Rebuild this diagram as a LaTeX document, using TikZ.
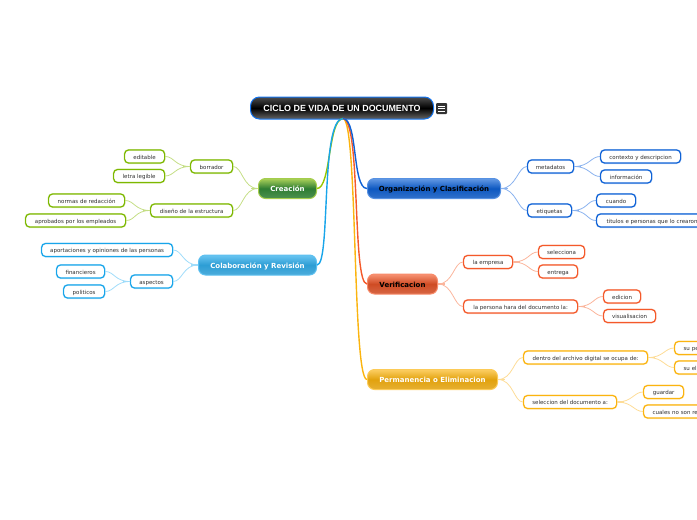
\documentclass[tikz,border=0pt]{standalone}
\usepackage{fontspec}
\setmainfont{DejaVu Sans}
\newfontfamily\rootfont{Liberation Sans}
\definecolor{verde}{HTML}{7DB800}
\definecolor{verdeL}{HTML}{C4DE85}
\definecolor{musgo}{HTML}{2E7D32}
\definecolor{azul}{HTML}{0F62D6}
\definecolor{azulL}{HTML}{8AB2EE}
\definecolor{rojo}{HTML}{F4592A}
\definecolor{rojoL}{HTML}{FBB59C}
\definecolor{oro}{HTML}{FBB40F}
\definecolor{oroL}{HTML}{FDDC96}
\definecolor{cielo}{HTML}{18A5EA}
\definecolor{cieloL}{HTML}{9FDCFA}
\definecolor{tinta}{HTML}{303030}
\tikzset{
  leaf/.style={anchor=west,draw=#1,line width=1.2pt,rounded corners=4pt,fill=white,
    preaction={draw=#1!25,line width=2pt},text=tinta,inner sep=0pt,
    text height=6.2pt,text depth=1pt,minimum height=13pt,font=\fontsize{5.5}{6}\selectfont},
  cutleaf/.style={leaf=#1,align=left},
  topic/.style n args={3}{anchor=west,draw=#1!70,line width=1pt,rounded corners=7pt,
    top color=#1!65,bottom color=#2!85,middle color=#2,inner sep=0pt,
    text height=7.4pt,text depth=1pt,minimum height=20pt,
    text=#3,font=\fontsize{7}{8}\selectfont\bfseries},
  kidleft/.style={out=180,in=0,out distance=15pt,in distance=9pt},
  kidright/.style={out=0,in=180,out distance=15pt,in distance=9pt},
}
\begin{document}
\begin{tikzpicture}[x=1pt,y=-1pt]
\useasboundingbox (0,0) rectangle (697,520);

%Centro
\node[anchor=west,draw=cielo!70!blue,line width=1pt,rounded corners=9pt,top color=black!70,
  bottom color=black!60,middle color=black,inner sep=0pt,minimum width=183pt,minimum height=22pt,
  text=white,font=\rootfont\fontsize{8.9}{10}\selectfont\bfseries] (root) at (250,108) {CICLO DE VIDA DE UN DOCUMENTO};
\node[anchor=west,fill=black!80,rounded corners=1pt,minimum width=11pt,minimum height=11pt,inner sep=0pt] (menu) at (436,108.5) {};
\foreach \y in {-2.5,0,2.5}{
    \draw[white,line width=0.7pt,shift={(menu.center)}] (-3.5,\y) -- (3.5,\y);
}
\coordinate (rootfoot) at (343,118.5);

%Temas
\node[topic={verde}{musgo}{white},minimum width=58pt] (creacion) at (258,188.5) {Creación};
\node[topic={azul}{azul!90!black}{black},minimum width=133pt] (organizacion) at (367,188.5) {Organización y Clasificación};
\node[topic={cielo}{cielo!80!gray}{white},minimum width=118pt] (colaboracion) at (198,265) {Colaboración y Revisión};
\node[topic={rojo}{rojo!85!black}{black},minimum width=70pt] (verificacion) at (367,284) {Verificacion};
\node[topic={oro}{oro!90!black}{white},minimum width=130pt] (permanencia) at (367,379.5) {Permanencia o Eliminacion};

%Izquierda
\node[leaf=verde,minimum width=42pt] (borrador) at (190,166.5) {borrador};
\node[leaf=verde,minimum width=40pt] (editable) at (124,156.5) {editable};
\node[leaf=verde,minimum width=51pt] (letra) at (113,176) {letra legible};
\node[leaf=verde,minimum width=82pt] (diseno) at (150,210.5) {diseño de la estructura};
\node[leaf=verde,minimum width=76pt] (normas) at (48,200.5) {normas de redacción};
\node[leaf=verde,minimum width=100pt] (aprobados) at (25,220.5) {aprobados por los empleados};
\node[leaf=cielo,minimum width=131pt] (aportaciones) at (41,250) {aportaciones y opiniones de las personas};
\node[leaf=cielo,minimum width=42pt] (aspectos) at (130,281.5) {aspectos};
\node[leaf=cielo,minimum width=48pt] (financieros) at (56,271.5) {financieros};
\node[leaf=cielo,minimum width=41pt] (politicos) at (63,291.5) {politicos};

%Derecha
\node[leaf=azul,minimum width=46pt] (metadatos) at (527,166.5) {metadatos};
\node[leaf=azul,minimum width=80pt] (contexto) at (600,156.5) {contexto y descripcion};
\node[leaf=azul,minimum width=51pt] (informacion) at (600,176.5) {información};
\node[leaf=azul,minimum width=44pt] (etiquetas) at (527,210.5) {etiquetas};
\node[leaf=azul,minimum width=39pt] (cuando) at (596,200.5) {cuando};
\node[cutleaf=azul,text width=110pt] (titulos) at (596,220.5) {\hspace*{10pt}titulos e personas que lo crearon};
\node[leaf=rojo,minimum width=49pt] (empresa) at (463,262) {la empresa};
\node[leaf=rojo,minimum width=46pt] (selecciona) at (538,252) {selecciona};
\node[leaf=rojo,minimum width=39pt] (entrega) at (538,271.5) {entrega};
\node[leaf=rojo,minimum width=114pt] (persona) at (463,306.5) {la persona hara del documento la:};
\node[leaf=rojo,minimum width=37pt] (edicion) at (603,296.5) {edicion};
\node[leaf=rojo,minimum width=52pt] (visual) at (603,316) {visualisacion};
\node[leaf=oro,minimum width=124pt] (dentro) at (523,357.5) {dentro del archivo digital se ocupa de:};
\node[cutleaf=oro,text width=40pt] (supe) at (674,348) {\hspace*{9pt}su pe};
\node[cutleaf=oro,text width=40pt] (suel) at (674,367.5) {\hspace*{9pt}su eli};
\node[leaf=oro,minimum width=93pt] (seleccion) at (523,402) {seleccion del documento a:};
\node[leaf=oro,minimum width=40pt] (guardar) at (643,392) {guardar};
\node[cutleaf=oro,text width=70pt] (cuales) at (643,411.5) {\hspace*{9pt}cuales no son re};

%Ramas del centro
\foreach \kid/\side/\ca/\cb/\tip/\clr in {creacion/east/328/331/188.5/verde!80!yellow,
    colaboracion/east/320/331/265/cielo,permanencia/west/358/352/379.5/oro,
    verificacion/west/361/352/284/rojo,organizacion/west/358/352/188.5/azul}{
    \draw[\clr,line width=1.4pt] (rootfoot) .. controls (\ca,119) and (\cb,\tip) .. (\kid.\side);
}

%Ramas a la izquierda
\foreach \mum/\kid/\clr in {creacion/borrador/verdeL,creacion/diseno/verdeL,
    borrador/editable/verdeL,borrador/letra/verdeL,diseno/normas/verdeL,diseno/aprobados/verdeL,
    colaboracion/aportaciones/cieloL,colaboracion/aspectos/cieloL,
    aspectos/financieros/cieloL,aspectos/politicos/cieloL}{
    \draw[\clr,line width=0.8pt] (\mum.west) to[kidleft] (\kid.east);
    \draw[\clr,line width=1.3pt] (\mum.west) -- ++(-7,0);
}

%Ramas a la derecha
\foreach \mum/\kid/\clr in {organizacion/metadatos/azulL,organizacion/etiquetas/azulL,
    metadatos/contexto/azulL,metadatos/informacion/azulL,etiquetas/cuando/azulL,etiquetas/titulos/azulL,
    verificacion/empresa/rojoL,verificacion/persona/rojoL,empresa/selecciona/rojoL,empresa/entrega/rojoL,
    persona/edicion/rojoL,persona/visual/rojoL,permanencia/dentro/oroL,permanencia/seleccion/oroL,
    dentro/supe/oroL,dentro/suel/oroL,seleccion/guardar/oroL,seleccion/cuales/oroL}{
    \draw[\clr,line width=0.8pt] (\mum.east) to[kidright] (\kid.west);
    \draw[\clr,line width=1.3pt] (\mum.east) -- ++(7,0);
}
\end{tikzpicture}
\end{document}
